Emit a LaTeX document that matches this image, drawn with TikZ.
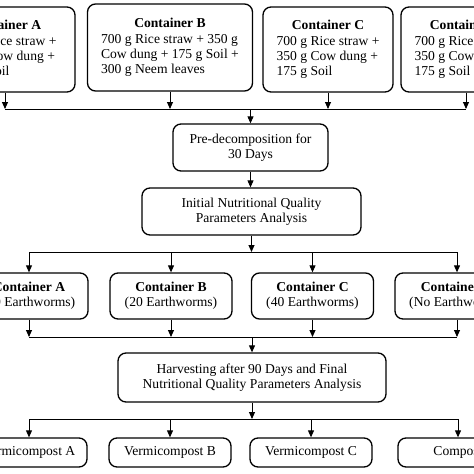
\documentclass[tikz,border=0pt]{standalone}
\usepackage{fontspec}
\setmainfont{Liberation Serif}
\usetikzlibrary{arrows.meta}
\begin{document}
\begin{tikzpicture}[x=1pt,y=-1pt,
 box/.style={draw, line width=1.3pt, rounded corners=8pt, inner sep=0pt, font=\fontsize{13.6}{15}\selectfont, align=center},
 conn/.style={line width=0.9pt},
 arr/.style={conn,-{Triangle[length=7pt,width=6pt]}}]
\useasboundingbox (0,0) rectangle (474,474);
\clip (0,0) rectangle (474,474);
\newcommand{\topbox}[2]{\begin{tabular}{@{}l@{}}\multicolumn{1}{@{}c@{}}{\textbf{#1}}\\[1.5pt]#2\end{tabular}}
% top row
\node[box, minimum width=140, minimum height=85] (tA) at (5,49.5)
  {\topbox{Container A}{700 g Rice straw +\\350 g Cow dung +\\175 g Soil}};
\node[box, minimum width=165, minimum height=87] (tB) at (170,47.5)
  {\topbox{Container B}{700 g Rice straw + 350 g\\Cow dung + 175 g Soil +\\300 g Neem leaves}};
\node[box, minimum width=130, minimum height=85] (tC) at (328,49.5)
  {\topbox{Container C}{700 g Rice straw +\\350 g Cow dung +\\175 g Soil}};
\node[box, minimum width=130, minimum height=85] (tD) at (466,49.5)
  {\topbox{Container D}{700 g Rice straw +\\350 g Cow dung +\\175 g Soil}};
\coordinate (bus1) at (0,109);
% middle
\node[box, minimum width=155, minimum height=47] (pre) at (250.5,147.5) {Pre-decomposition for\\30 Days};
\node[box, minimum width=219, minimum height=47] (init) at (251.5,211.5) {Initial Nutritional Quality\\Parameters Analysis};
\coordinate (bus2) at (0,252);
% second row
\node[box, minimum width=118, minimum height=46] (mA) at (29,296) {\textbf{Container A}\\(10 Earthworms)};
\node[box, minimum width=122, minimum height=46] (mB) at (171,296) {\textbf{Container B}\\(20 Earthworms)};
\node[box, minimum width=122, minimum height=46] (mC) at (312.5,296) {\textbf{Container C}\\(40 Earthworms)};
\node[box, minimum width=124, minimum height=46] (mD) at (457,296) {\textbf{Container D}\\(No Earthworms)};
\coordinate (bus3) at (0,337);
\node[box, minimum width=268, minimum height=49] (harv) at (252,377.5) {Harvesting after 90 Days and Final\\Nutritional Quality Parameters Analysis};
\coordinate (bus4) at (0,419);
% bottom row
\node[box, minimum width=116, minimum height=29] (bA) at (29,452.5) {Vermicompost A};
\node[box, minimum width=122, minimum height=29] (bB) at (170,452.5) {Vermicompost B};
\node[box, minimum width=122, minimum height=29] (bC) at (311,452.5) {Vermicompost C};
\node[box, minimum width=120, minimum height=29] (bD) at (458,452.5) {Compost};
% connectors
\foreach \n in {tA,tB,tC,tD} \draw[arr] (\n.south) -- (\n.south |- bus1);
\draw[conn] (tA.south |- bus1) -- (tD.south |- bus1);
\draw[arr] (pre.north |- bus1) -- (pre.north);
\draw[arr] (pre.south) -- (pre.south |- init.north);
\draw[arr] (init.south) -- (init.south |- bus2);
\draw[conn] (mA.north |- bus2) -- (mD.north |- bus2);
\foreach \n in {mA,mB,mC,mD} \draw[arr] (\n.north |- bus2) -- (\n.north);
\foreach \n in {mA,mB,mC,mD} \draw[arr] (\n.south) -- (\n.south |- bus3);
\draw[conn] (mA.south |- bus3) -- (mD.south |- bus3);
\draw[arr] (harv.north |- bus3) -- (harv.north);
\draw[arr] (harv.south) -- (harv.south |- bus4);
\draw[conn] (bA.north |- bus4) -- (bD.north |- bus4);
\foreach \n in {bA,bB,bC,bD} \draw[arr] (\n.north |- bus4) -- (\n.north);
\end{tikzpicture}
\end{document}
